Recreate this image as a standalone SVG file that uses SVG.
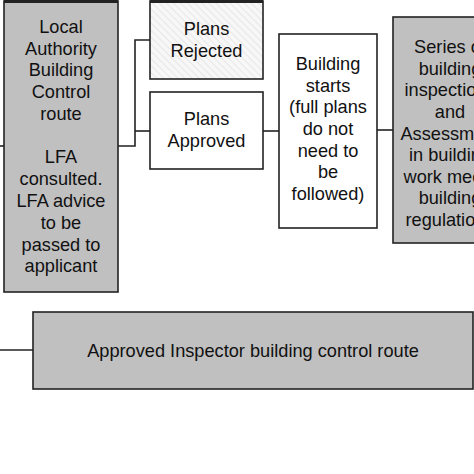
<svg xmlns="http://www.w3.org/2000/svg" width="474" height="474" viewBox="0 0 474 474">
<defs>
<pattern id="hatch" patternUnits="userSpaceOnUse" width="5" height="5" patternTransform="rotate(-45)">
<rect width="5" height="5" fill="#f7f7f7"/>
<line x1="0" y1="0" x2="0" y2="5" stroke="#e2e2e2" stroke-width="1.5"/>
</pattern>
</defs>
<style>
.box{stroke:#222;stroke-width:1.6}
.gray{fill:#c0c0c0}
.white{fill:#fff}
.t{font-family:"Liberation Sans",Arial,sans-serif;font-size:18.2px;fill:#111;text-anchor:middle}
.c{fill:none;stroke:#222;stroke-width:1.6}
</style>
<rect width="474" height="474" fill="#fff"/>
<g id="connectors">
<polyline class="c" points="0,146 4,146"/>
<polyline class="c" points="118,146 135,146 135,40 150,40"/>
<polyline class="c" points="135,131 150,131"/>
<polyline class="c" points="263,131 279,131"/>
<polyline class="c" points="377,130 393,130"/>
<polyline class="c" points="0,350 33,350"/>
</g>
<g id="la-route">
<rect class="box gray" x="4" y="1" width="114" height="291"/>
<rect x="4" y="0" width="114" height="3" fill="#222"/>
<text class="t" x="61" y="33">Local</text>
<text class="t" x="61" y="55">Authority</text>
<text class="t" x="61" y="76">Building</text>
<text class="t" x="61" y="98">Control</text>
<text class="t" x="61" y="120">route</text>
<text class="t" x="61" y="163">LFA</text>
<text class="t" x="61" y="185">consulted.</text>
<text class="t" x="61" y="207">LFA advice</text>
<text class="t" x="61" y="229">to be</text>
<text class="t" x="61" y="251">passed to</text>
<text class="t" x="61" y="272">applicant</text>
</g>
<g id="plans-rejected">
<rect class="box" fill="url(#hatch)" x="150" y="1" width="113" height="78"/>
<rect x="150" y="0" width="113" height="3" fill="#222"/>
<text class="t" x="206.5" y="35">Plans</text>
<text class="t" x="206.5" y="57">Rejected</text>
</g>
<g id="plans-approved">
<rect class="box white" x="150" y="92" width="113" height="77"/>
<text class="t" x="206.5" y="125">Plans</text>
<text class="t" x="206.5" y="147">Approved</text>
</g>
<g id="building-starts">
<rect class="box white" x="279" y="34" width="98" height="194"/>
<text class="t" x="328" y="70">Building</text>
<text class="t" x="328" y="92">starts</text>
<text class="t" x="328" y="113">(full plans</text>
<text class="t" x="328" y="135">do not</text>
<text class="t" x="328" y="157">need to</text>
<text class="t" x="328" y="178">be</text>
<text class="t" x="328" y="200">followed)</text>
</g>
<g id="inspections">
<rect class="box gray" x="393" y="17" width="110" height="226"/>
<text class="t" x="450" y="53">Series of</text>
<text class="t" x="450" y="75">building</text>
<text class="t" x="450" y="96">inspections</text>
<text class="t" x="450" y="118">and</text>
<text class="t" x="450" y="140">Assessment</text>
<text class="t" x="450" y="161">in building</text>
<text class="t" x="450" y="183">work meets</text>
<text class="t" x="450" y="204">building</text>
<text class="t" x="450" y="226">regulations</text>
</g>
<g id="ai-route">
<rect class="box gray" x="33" y="312" width="440" height="77"/>
<text class="t" x="253" y="357">Approved Inspector building control route</text>
</g>
</svg>
